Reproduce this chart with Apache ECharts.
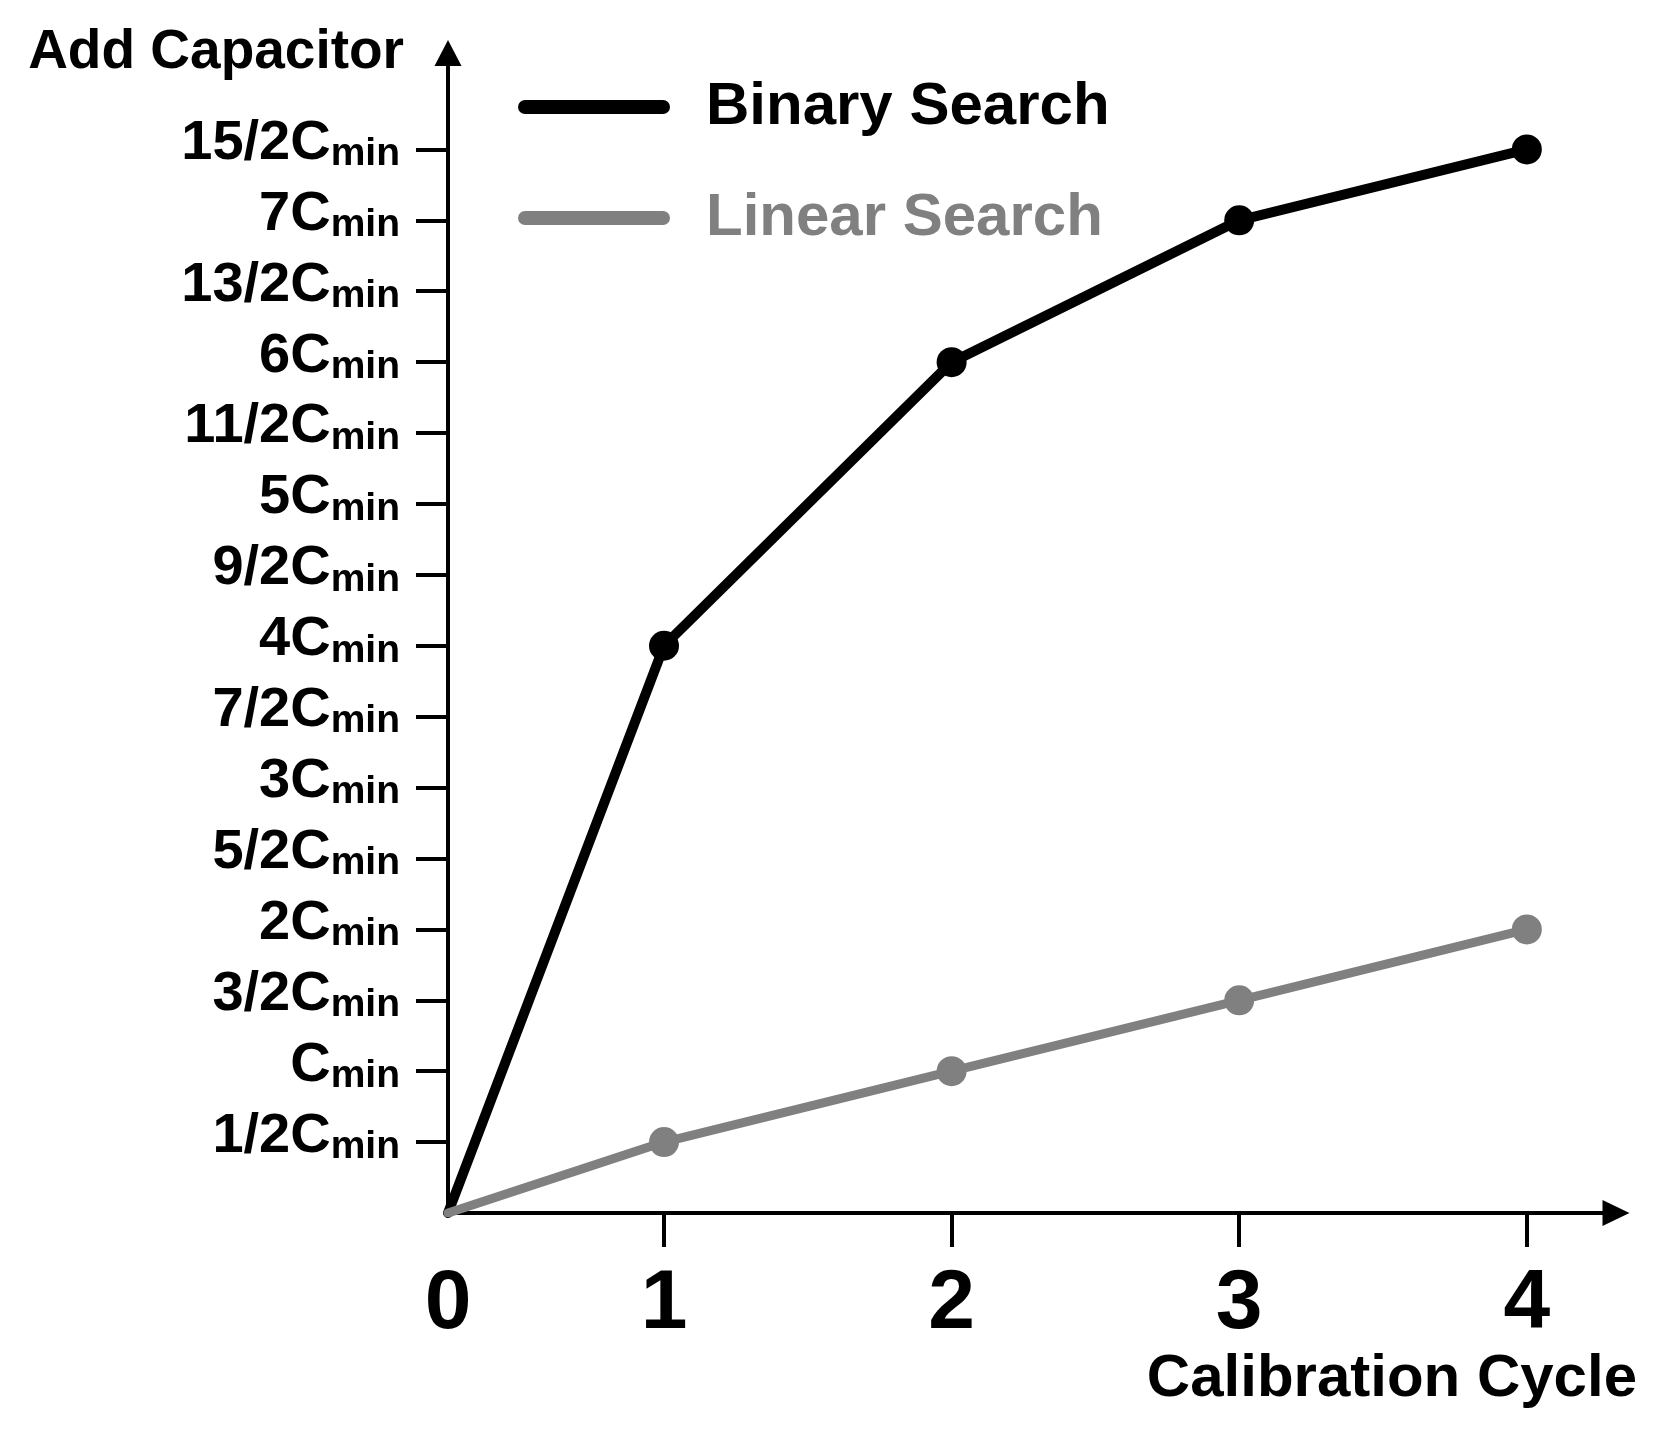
<!DOCTYPE html>
<html>
<head>
<meta charset="utf-8">
<script src="https://cdn.jsdelivr.net/npm/echarts@6/dist/echarts.min.js"></script>
<style>
html,body{margin:0;padding:0;background:#fff;}
#chart{width:1653px;height:1431px;}
</style>
</head>
<body>
<div id="chart"></div>
<script>
// ---- data ----
const cycles = [0, 1, 2, 3, 4];
const binaryValues = [0, 4, 6, 7, 7.5];
const linearValues = [0, 0.5, 1, 1.5, 2];
const xTickLabels = ['0', '1', '2', '3', '4'];
const yTickValues = [0.5, 1, 1.5, 2, 2.5, 3, 3.5, 4, 4.5, 5, 5.5, 6, 6.5, 7, 7.5];
const yTickLabels = ['1/2', '', '3/2', '2', '5/2', '3', '7/2', '4', '9/2', '5', '11/2', '6', '13/2', '7', '15/2'];
const seriesNames = ['Binary Search', 'Linear Search'];

const FONT = '"Liberation Sans", Arial, Helvetica, sans-serif';
const BLACK = '#000000';
const GRAY = '#808080';

function pairs(vals) { return cycles.map((c, i) => [c, vals[i]]); }
function firstSeg(vals) { return pairs(vals).filter(p => p[0] <= 1); }
function restSeg(vals) { return pairs(vals).filter(p => p[0] >= 1); }

const Y_MAX = 8.18;
const X2_MAX = 4.31;

const axisLineStyle = { color: BLACK, width: 4 };

const chart = echarts.init(document.getElementById('chart'), null, { renderer: 'canvas' });

const option = {
  animation: false,
  backgroundColor: '#ffffff',
  legend: {
    orient: 'vertical',
    left: 513,
    top: 69,
    itemWidth: 152,
    itemHeight: 14,
    itemGap: 45,
    icon: 'path://M7,0H145A7,7,0,0,1,145,14H7A7,7,0,0,1,7,0Z',
    selectedMode: false,
    textStyle: { fontFamily: FONT, fontWeight: 'bold', fontSize: 60, lineHeight: 66, padding: [0, 0, 0, 31] },
    data: [
      { name: seriesNames[0], textStyle: { color: BLACK } },
      { name: seriesNames[1], textStyle: { color: GRAY } }
    ]
  },
  grid: [
    { left: 448, top: 53, width: 216, height: 1160, containLabel: false, outerBoundsMode: 'none' },
    { left: 664, top: 53, width: 952, height: 1160, containLabel: false, outerBoundsMode: 'none' }
  ],
  xAxis: [
    {
      type: 'value', gridIndex: 0, min: 0, max: 1, interval: 1,
      splitLine: { show: false },
      axisLine: { show: true, onZero: false, lineStyle: axisLineStyle },
      axisTick: { show: false },
      axisLabel: {
        show: true, customValues: [0], margin: 50,
        formatter: v => xTickLabels[cycles.indexOf(v)],
        fontFamily: FONT, fontWeight: 'bold', fontSize: 84, lineHeight: 84, color: BLACK
      }
    },
    {
      type: 'value', gridIndex: 1, min: 1, max: X2_MAX, interval: 1,
      splitLine: { show: false },
      axisLine: { show: true, onZero: false, lineStyle: axisLineStyle, symbol: ['none', 'triangle'], symbolSize: [26, 27] },
      axisTick: { show: true, customValues: [1, 2, 3, 4], length: 34, lineStyle: { color: BLACK, width: 4 } },
      axisLabel: {
        show: true, customValues: [1, 2, 3, 4], margin: 50,
        formatter: v => xTickLabels[cycles.indexOf(v)],
        fontFamily: FONT, fontWeight: 'bold', fontSize: 84, lineHeight: 84, color: BLACK
      },
      name: 'Calibration Cycle',
      nameLocation: 'end',
      nameGap: 21,
      nameMoveOverlap: false,
      nameTextStyle: {
        fontFamily: FONT, fontWeight: 'bold', fontSize: 60, lineHeight: 66, color: BLACK,
        align: 'right', verticalAlign: 'top', padding: [133, 0, 0, 0]
      }
    }
  ],
  yAxis: [
    {
      type: 'value', gridIndex: 0, min: 0, max: Y_MAX, interval: 0.5,
      splitLine: { show: false },
      axisLine: { show: true, onZero: false, lineStyle: axisLineStyle, symbol: ['none', 'triangle'], symbolSize: [27, 26] },
      axisTick: { show: true, customValues: yTickValues, length: 32, lineStyle: { color: BLACK, width: 4 } },
      axisLabel: {
        show: true, customValues: yTickValues, margin: 48,
        formatter: v => '{a|' + yTickLabels[yTickValues.indexOf(v)] + 'C}{b|min}',
        rich: {
          a: { fontFamily: FONT, fontWeight: 'bold', fontSize: 56, color: BLACK, padding: [0, 0, 12, 0] },
          b: { fontFamily: FONT, fontWeight: 'bold', fontSize: 39, color: BLACK, padding: [10, 0, 0, 0] }
        }
      },
      name: 'Add Capacitor',
      nameLocation: 'end',
      nameGap: 0,
      nameMoveOverlap: false,
      nameTextStyle: {
        fontFamily: FONT, fontWeight: 'bold', fontSize: 55, lineHeight: 60, color: BLACK,
        align: 'right', verticalAlign: 'middle', padding: [0, 44, 0, 0]
      }
    },
    {
      type: 'value', gridIndex: 1, min: 0, max: Y_MAX, interval: 0.5, show: false,
      splitLine: { show: false }
    }
  ],
  series: [
    {
      name: seriesNames[0], type: 'line', xAxisIndex: 0, yAxisIndex: 0,
      data: firstSeg(binaryValues), showSymbol: false, color: BLACK,
      lineStyle: { color: BLACK, width: 10, cap: 'round' }, z: 2
    },
    {
      name: seriesNames[0], type: 'line', xAxisIndex: 1, yAxisIndex: 1,
      data: restSeg(binaryValues), symbol: 'circle', symbolSize: 30, color: BLACK,
      itemStyle: { color: BLACK }, lineStyle: { color: BLACK, width: 10, cap: 'round' }, z: 2
    },
    {
      name: seriesNames[1], type: 'line', xAxisIndex: 0, yAxisIndex: 0,
      data: firstSeg(linearValues), showSymbol: false, color: GRAY,
      lineStyle: { color: GRAY, width: 9, cap: 'round' }, z: 3
    },
    {
      name: seriesNames[1], type: 'line', xAxisIndex: 1, yAxisIndex: 1,
      data: restSeg(linearValues), symbol: 'circle', symbolSize: 30, color: GRAY,
      itemStyle: { color: GRAY }, lineStyle: { color: GRAY, width: 9, cap: 'round' }, z: 3
    }
  ]
};

chart.setOption(option);
</script>
</body>
</html>
